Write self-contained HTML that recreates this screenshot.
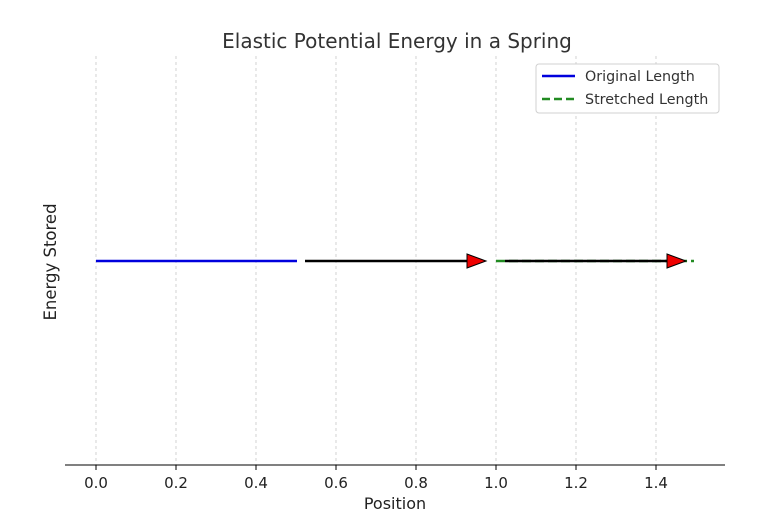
<!DOCTYPE html>
<html><head><style>body{margin:0;background:#fff}svg{display:block}</style></head><body>
<svg width="768" height="512" xmlns="http://www.w3.org/2000/svg" font-family="DejaVu Sans, Liberation Sans, sans-serif">
<rect width="768" height="512" fill="#fff"/>
<g stroke="#c8c8c8" stroke-width="0.8" stroke-dasharray="3,3">
<line x1="96" y1="56" x2="96" y2="465"/><line x1="176" y1="56" x2="176" y2="465"/>
<line x1="256" y1="56" x2="256" y2="465"/><line x1="336" y1="56" x2="336" y2="465"/>
<line x1="416" y1="56" x2="416" y2="465"/><line x1="496" y1="56" x2="496" y2="465"/>
<line x1="576" y1="56" x2="576" y2="465"/><line x1="656" y1="56" x2="656" y2="465"/>
</g>
<line x1="65" y1="465" x2="725" y2="465" stroke="#000" stroke-width="1"/>
<g stroke="#000" stroke-width="1">
<line x1="96" y1="465" x2="96" y2="470"/><line x1="176" y1="465" x2="176" y2="470"/>
<line x1="256" y1="465" x2="256" y2="470"/><line x1="336" y1="465" x2="336" y2="470"/>
<line x1="416" y1="465" x2="416" y2="470"/><line x1="496" y1="465" x2="496" y2="470"/>
<line x1="576" y1="465" x2="576" y2="470"/><line x1="656" y1="465" x2="656" y2="470"/>
</g>
<g font-size="15" fill="#222" text-anchor="middle">
<text x="96" y="488">0.0</text><text x="176" y="488">0.2</text><text x="256" y="488">0.4</text>
<text x="336" y="488">0.6</text><text x="416" y="488">0.8</text><text x="496" y="488">1.0</text>
<text x="576" y="488">1.2</text><text x="656" y="488">1.4</text>
<text x="395" y="509" font-size="16">Position</text>
<text x="397" y="48" font-size="20" fill="#333">Elastic Potential Energy in a Spring</text>
<text transform="translate(56,262) rotate(-90)" font-size="16.5">Energy Stored</text>
</g>
<line x1="96" y1="261" x2="297" y2="261" stroke="#0000dd" stroke-width="2.5"/>
<line x1="496" y1="261" x2="694" y2="261" stroke="#228b22" stroke-width="2.5" stroke-dasharray="9,4"/>
<line x1="305" y1="261" x2="468" y2="261" stroke="#000" stroke-width="2.5"/>
<polygon points="467,254 486,261 467,268" fill="#e00" stroke="#000" stroke-width="1"/>
<line x1="505" y1="261" x2="668" y2="261" stroke="#000" stroke-width="2.5"/>
<polygon points="667,254 686,261 667,268" fill="#e00" stroke="#000" stroke-width="1"/>
<rect x="536" y="64" width="183" height="49" rx="3" fill="#fff" stroke="#d0d0d0"/>
<line x1="542" y1="76" x2="575" y2="76" stroke="#0000dd" stroke-width="2.5"/>
<line x1="542" y1="99" x2="575" y2="99" stroke="#228b22" stroke-width="2.5" stroke-dasharray="8,4"/>
<text x="585" y="81" font-size="14.3" fill="#333">Original Length</text>
<text x="585" y="104" font-size="14.3" fill="#333">Stretched Length</text>
</svg>
</body></html>
